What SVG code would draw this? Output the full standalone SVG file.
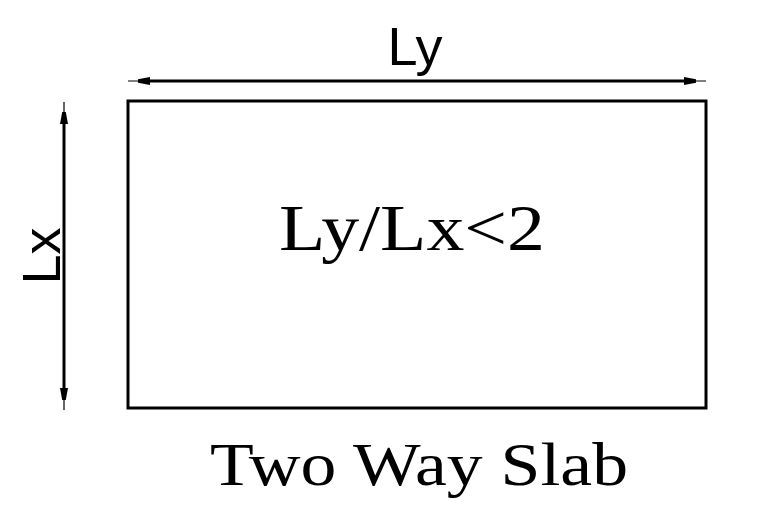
<svg xmlns="http://www.w3.org/2000/svg" width="768" height="518" viewBox="0 0 768 518">
<style>
.ln{stroke:#000;stroke-width:3;fill:none}
.sans{font-family:"Liberation Sans",Arial,sans-serif;fill:#000}
.serif{font-family:"Liberation Serif","Times New Roman",serif;fill:#000}
</style>
<defs>
<marker id="ah" viewBox="0 0 22 10" refX="0" refY="5" markerWidth="22" markerHeight="10" markerUnits="userSpaceOnUse" orient="auto-start-reverse" overflow="visible">
<path d="M0,1 L12,3.2 L12,4.4 L22,4.4 L22,5.6 L12,5.6 L12,6.8 L0,9 Z" fill="#000"/>
</marker>
</defs>
<rect fill="#fff" width="768" height="518"/>
<g id="slab">
<rect x="128" y="101" width="578" height="307" fill="none" stroke="#000" stroke-width="3"/>
<text class="serif" x="412" y="250" font-size="66" text-anchor="middle" textLength="266" lengthAdjust="spacingAndGlyphs">Ly/Lx&lt;2</text>
</g>
<g id="connectors">
<line class="ln" x1="150" y1="81" x2="684" y2="81" marker-start="url(#ah)" marker-end="url(#ah)"/>
<line class="ln" x1="64" y1="124" x2="64" y2="388" marker-start="url(#ah)" marker-end="url(#ah)"/>
</g>
<g id="label-ly">
<text class="sans" x="415" y="65" font-size="54" text-anchor="middle">Ly</text>
</g>
<g id="label-lx">
<text class="sans" transform="translate(60,256) rotate(-90)" font-size="54" text-anchor="middle">Lx</text>
</g>
<g id="title">
<text class="serif" x="419" y="485" font-size="62" text-anchor="middle" textLength="418" lengthAdjust="spacingAndGlyphs">Two Way Slab</text>
</g>
</svg>
